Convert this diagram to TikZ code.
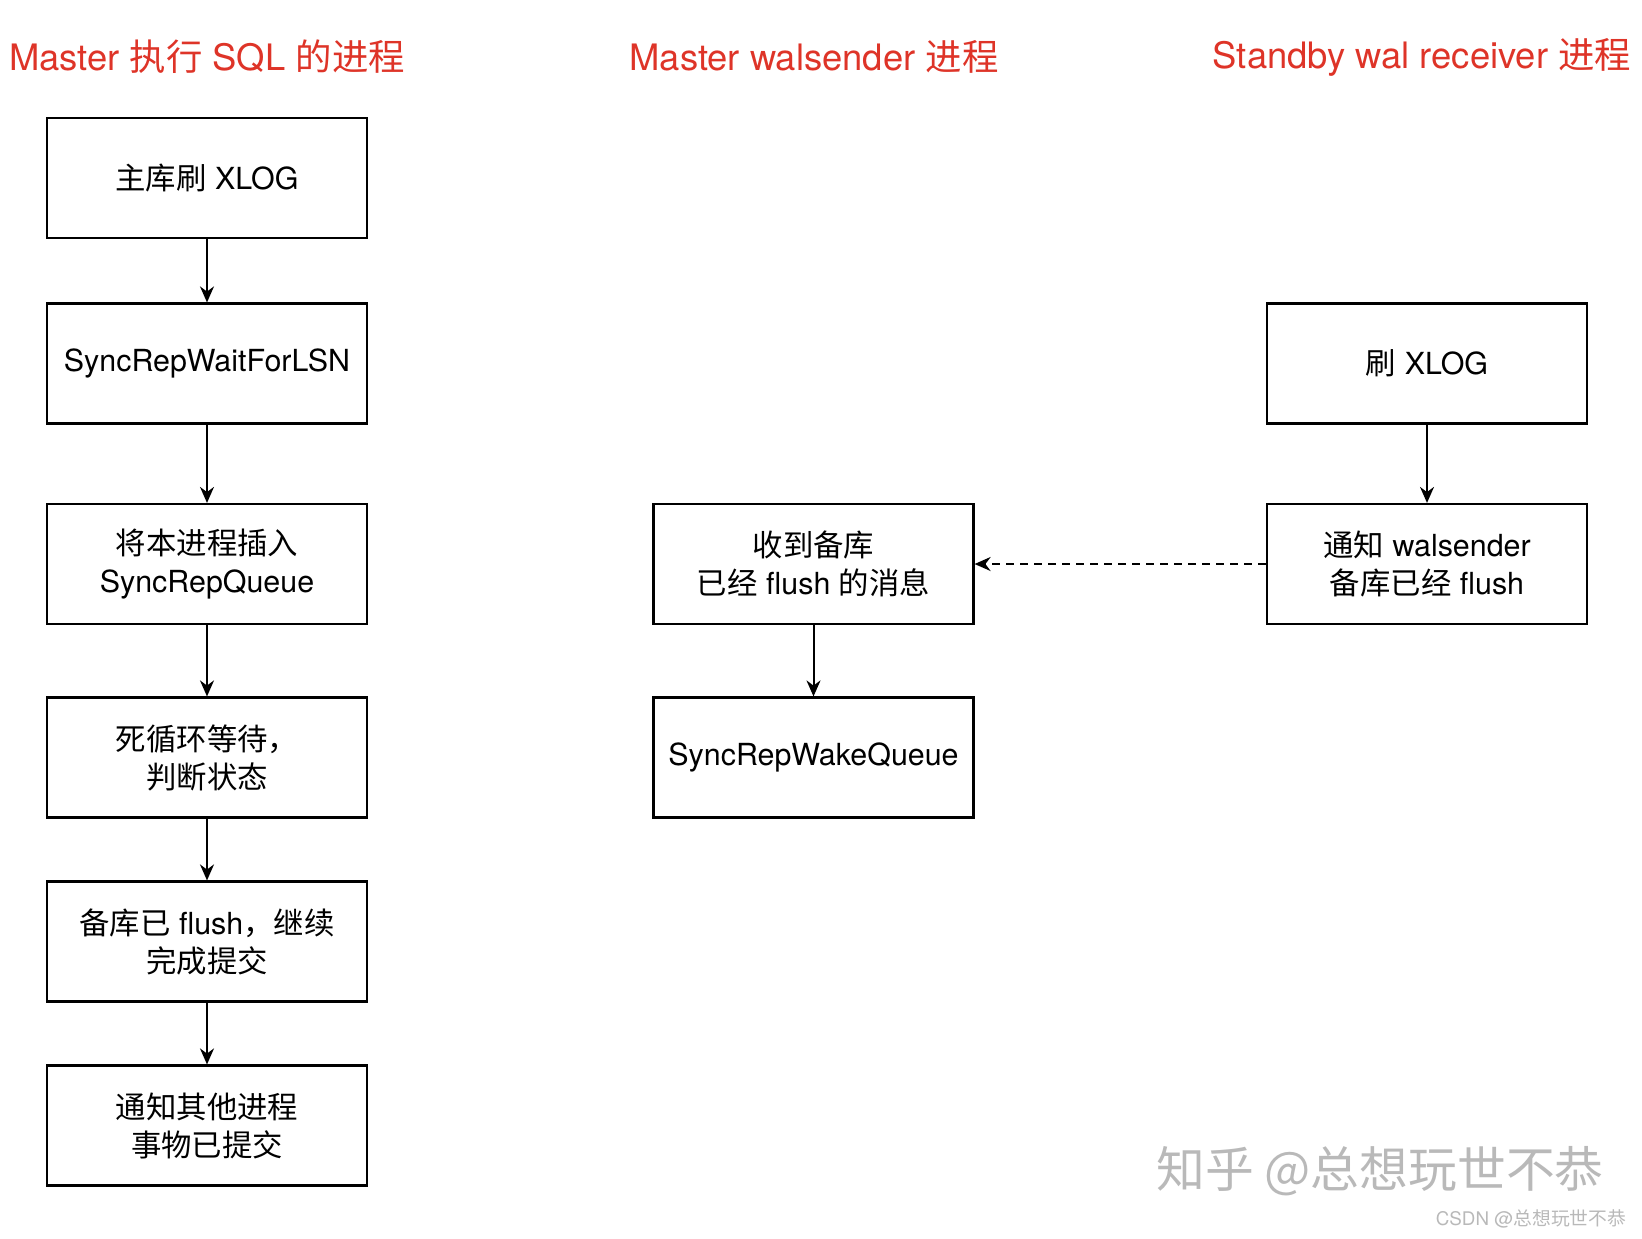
\documentclass[tikz,border=0pt]{standalone}
\usepackage{fontspec}
\setmainfont{TeX Gyre Heros}
\newfontfamily\cjk{Noto Sans CJK SC}
\usetikzlibrary{arrows.meta}
\definecolor{titlered}{RGB}{222,52,40}
\definecolor{wmgrey}{RGB}{185,185,185}
\begin{document}
\begin{tikzpicture}[x=0.5pt,y=-0.5pt,
  box/.style={draw=black,line width=1.1pt,minimum width=160pt,minimum height=60pt,inner sep=0pt,align=center,font=\fontsize{15.2}{19}\selectfont},
  ttl/.style={text=titlered,font=\fontsize{18.2}{21}\selectfont,inner sep=0pt},
  arr/.style={-{Stealth[length=8pt,width=7pt]},line width=1pt}]
\useasboundingbox (0,0) rectangle (1642,1238);
\node[ttl] (t1) at (207,57) {Master {\cjk 执行} SQL {\cjk 的进程}};
\node[ttl] (t2) at (814,57) {Master walsender {\cjk 进程}};
\node[ttl] (t3) at (1422,57) {Standby wal receiver {\cjk 进程}};

\node[box] (a1) at (207,178) {{\cjk 主库刷} XLOG};
\node[box] (a2) at (207,363.5) {SyncRepWaitForLSN};
\node[box] (a3) at (207,564) {{\cjk 将本进程插入}\\SyncRepQueue};
\node[box] (a4) at (207,757.5) {{\cjk 死循环等待，}\\{\cjk 判断状态}};
\node[box] (a5) at (207,941.5) {{\cjk 备库已} flush{\cjk ，继续}\\{\cjk 完成提交}};
\node[box] (a6) at (207,1125.5) {{\cjk 通知其他进程}\\{\cjk 事物已提交}};

\node[box] (m1) at (813.5,564) {{\cjk 收到备库}\\{\cjk 已经} flush {\cjk 的消息}};
\node[box] (m2) at (813.5,757.5) {SyncRepWakeQueue};

\node[box] (s1) at (1427,363.5) {{\cjk 刷} XLOG};
\node[box] (s2) at (1427,564) {{\cjk 通知} walsender\\{\cjk 备库已经} flush};

\draw[arr] (a1) -- (a2);
\draw[arr] (a2) -- (a3);
\draw[arr] (a3) -- (a4);
\draw[arr] (a4) -- (a5);
\draw[arr] (a5) -- (a6);
\draw[arr] (m1) -- (m2);
\draw[arr] (s1) -- (s2);
\draw[arr,dash pattern=on 4pt off 3pt] (s2) -- (m1);

\node[text=wmgrey,font=\cjk\fontsize{24.4}{28}\selectfont,inner sep=0pt] (w1) at (1380,1171) {知乎 @总想玩世不恭};
\node[text=wmgrey,font=\fontsize{9.4}{11}\selectfont,inner sep=0pt] (w2) at (1531,1219) {CSDN @{\cjk 总想玩世不恭}};
\end{tikzpicture}
\end{document}
